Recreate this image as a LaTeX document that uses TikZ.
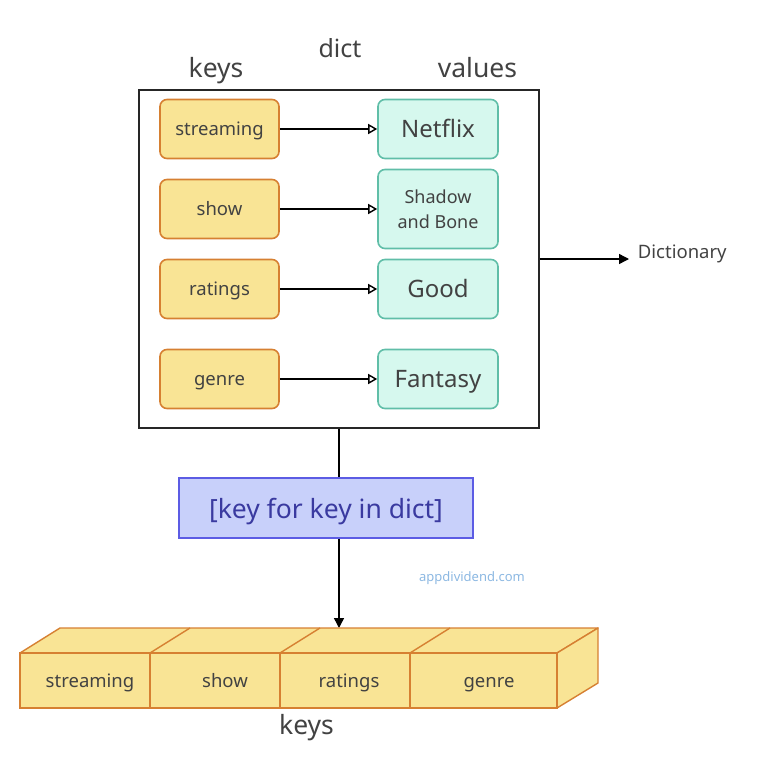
\documentclass[tikz,border=0pt]{standalone}
\usepackage{fontspec}
\setmainfont{Noto Sans}
\usetikzlibrary{arrows.meta}

\definecolor{keyfill}{RGB}{249,228,149}
\definecolor{keyline}{RGB}{214,128,50}
\definecolor{valfill}{RGB}{214,248,238}
\definecolor{valline}{RGB}{96,190,168}
\definecolor{listfill}{RGB}{200,208,250}
\definecolor{listline}{RGB}{92,92,228}
\definecolor{listtext}{RGB}{58,58,160}
\definecolor{txt}{RGB}{66,66,66}
\definecolor{wmark}{RGB}{140,184,226}

\tikzset{
  keybox/.style={draw=keyline, fill=keyfill, line width=1.6, rounded corners=7,
    minimum width=119, minimum height=59, text=txt, text height=15, text depth=2,
    font=\fontsize{18.5}{21}\selectfont},
  valbox/.style={draw=valline, fill=valfill, line width=1.6, rounded corners=7,
    minimum width=120, minimum height=59, text=txt, align=center},
  bigval/.style={valbox, text height=19, text depth=2, font=\fontsize{24}{27}\selectfont},
  hdr/.style={text=txt, font=\fontsize{26.5}{30}\selectfont, inner sep=0.75pt, anchor=base},
  celltext/.style={text=txt, font=\fontsize{18.5}{21}\selectfont, inner sep=0.75pt, anchor=base},
  kvarrow/.style={line width=1.4, -{Triangle[open,length=9,width=10]}},
  flow/.style={line width=1.4, -{Triangle[length=10,width=10]}},
  cell/.style={draw=keyline, fill=keyfill, line width=1.4},
}

\begin{document}
\begin{tikzpicture}[x=1pt,y=1pt,yscale=-1]
\useasboundingbox (0,0) rectangle (768,777);

% Text Node
\node [hdr, font=\fontsize{25}{28}\selectfont] (dictlbl) at (340,57) {dict};
% Text Node
\node [hdr] (keyslbl) at (216,77) {keys};
% Text Node
\node [hdr] (valueslbl) at (477.5,77) {values};

%Shape: Rectangle
\node [draw=black!85, line width=1.4, minimum width=400, minimum height=338, inner sep=0] (dictbox) at (339,259) {};

%Rounded Rect
\node [keybox] (kstream) at (219.5,129) {streaming};
\node [keybox] (kshow) at (219.5,209) {show};
\node [keybox] (kratings) at (219.5,289) {ratings};
\node [keybox] (kgenre) at (219.5,379) {genre};

%Rounded Rect
\node [bigval] (vnetflix) at (438,129) {Netflix};
\node [valbox, minimum height=79, font=\fontsize{18}{25.5}\selectfont] (vshadow) at (438,209) {Shadow\\and Bone};
\node [bigval] (vgood) at (438,289) {Good};
\node [bigval] (vfantasy) at (438,379) {Fantasy};

%Straight Lines
\draw [kvarrow] (kstream) -- (vnetflix);
\draw [kvarrow] (kshow) -- (vshadow);
\draw [kvarrow] (kratings) -- (vgood);
\draw [kvarrow] (kgenre) -- (vfantasy);

% Text Node
\node [text=txt, anchor=base west, inner sep=0.75pt, font=\fontsize{18.5}{21}\selectfont] (dictout) at (637,258) {Dictionary};
\coordinate (dictend) at (629,259);
\draw [flow] (dictbox.east) -- (dictend);

%Shape: Rectangle
\node [draw=listline, fill=listfill, line width=1.3, minimum width=294, minimum height=60] (listcomp) at (326,508) {};
\node [text=listtext, anchor=base, inner sep=0.75pt, font=\fontsize{26.5}{30}\selectfont] (listtxt) at (326,518) {[key for key in dict]};
\draw [line width=1.4] (dictbox.south) -- (dictbox.south |- listcomp.north);

% Text Node
\node [text=wmark, anchor=base, inner sep=0.75pt, font=\fontsize{13}{15}\selectfont] (wm) at (472,581.5) {appdividend.com};

%Shape: Cube row
\coordinate (arrtop) at (339,628);
\draw [flow] (dictbox.south |- listcomp.south) -- (arrtop);
\draw [cell, line join=round] (20,653) -- (60,628) -- (598,628) -- (557,653) -- cycle;
\draw [cell, line join=round] (557,653) -- (598,628) -- (598,683) -- (557,708) -- cycle;
\foreach \xa/\xb in {20/150,150/280,280/410,410/557}
  \draw [cell] (\xa,653) rectangle (\xb,708);
\foreach \xa in {150,280,410}
  \draw [keyline, line width=1.4] (\xa,653) -- (\xa+40,628);

% Text Node
\node [celltext] (a1) at (90,687) {streaming};
\node [celltext] (a2) at (225,687) {show};
\node [celltext] (a3) at (349,687) {ratings};
\node [celltext] (a4) at (489,687) {genre};
% Text Node
\node [hdr] (arrlbl) at (306.5,734) {keys};

\end{tikzpicture}
\end{document}
